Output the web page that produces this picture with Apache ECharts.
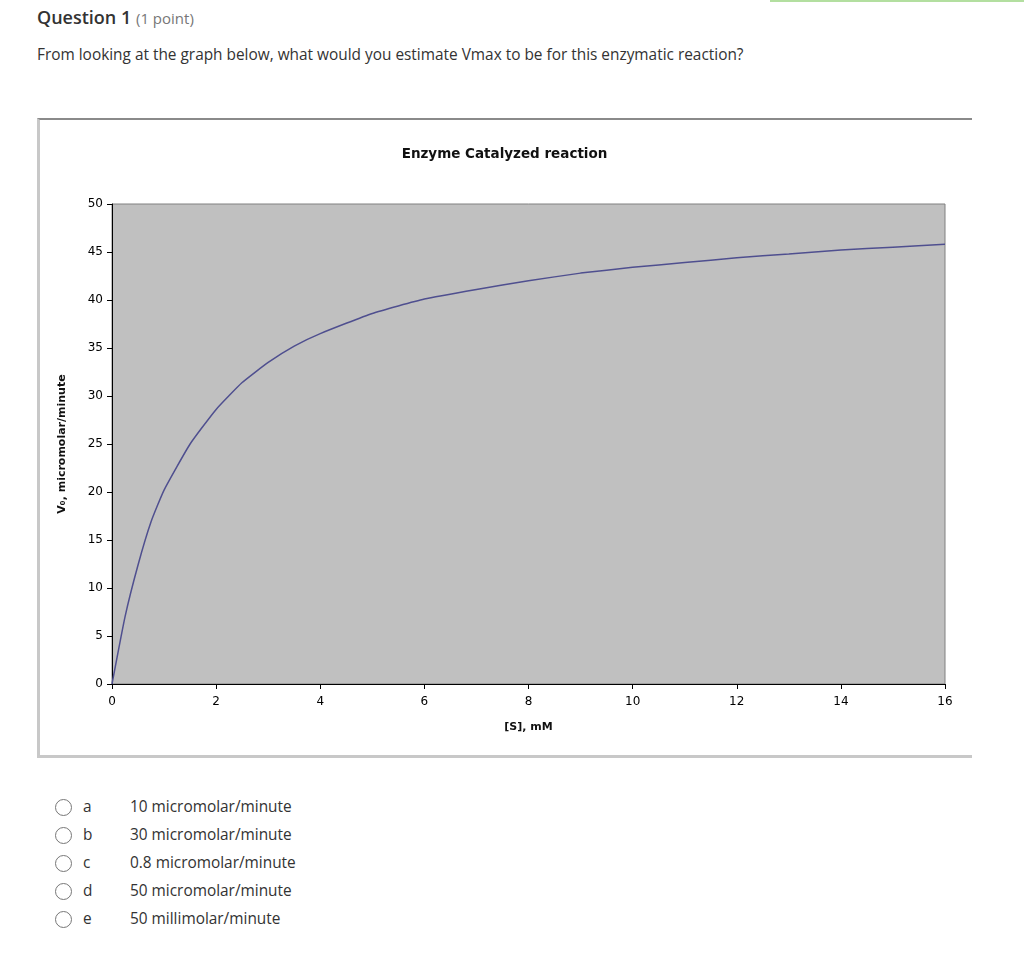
<!DOCTYPE html>
<html>
<head>
<meta charset="utf-8">
<script src="https://cdn.jsdelivr.net/npm/echarts@6/dist/echarts.min.js"></script>
<style>
  html, body { margin: 0; padding: 0; background: #fff; }
  body { width: 1024px; height: 958px; position: relative; font-family: "Open Sans", sans-serif; color: #333; overflow: hidden; }
  #topline { position: absolute; left: 770px; top: 0; width: 254px; height: 2px; background: #b3dfa0; }
  #qtitle { position: absolute; left: 37px; top: 5px; font-size: 18px; font-weight: 600; color: #333; white-space: nowrap; }
  #qtitle span { font-size: 15px; font-weight: 400; color: #777; }
  #qtext { position: absolute; left: 37px; top: 44px; font-size: 15.4px; color: #333; white-space: nowrap; }
  #chartbox { position: absolute; left: 37px; top: 118px; width: 935px; height: 640px;
    border-top: 2px solid #8a8a8a; border-left: 3px solid #c8c8c8; border-bottom: 3px solid #c8c8c8; box-sizing: border-box; }
  #chart { position: absolute; left: 37px; top: 118px; width: 935px; height: 640px; }
  .opt { position: absolute; left: 55px; font-size: 15.4px; color: #333; height: 20px; }
  .opt .rad { position: absolute; left: 0; top: 1px; width: 15px; height: 15px; border: 1.5px solid #777; border-radius: 50%; }
  .opt .let { position: absolute; left: 28px; top: -2px; }
  .opt .txt { position: absolute; left: 75px; top: -2px; white-space: nowrap; }
</style>
</head>
<body>
<div id="topline"></div>
<div id="qtitle">Question 1 <span>(1 point)</span></div>
<div id="qtext">From looking at the graph below, what would you estimate Vmax to be for this enzymatic reaction?</div>
<div id="chartbox"></div>
<div id="chart"></div>
<div id="opts"></div>
<script>
// Data
const substrate = [0, 0.25, 0.5, 0.75, 1, 1.5, 2, 2.5, 3, 3.5, 4, 5, 6, 7, 8, 9, 10, 11, 12, 13, 14, 15, 16];
const velocity  = [0, 7.0, 12.4, 16.9, 20.2, 25.0, 28.6, 31.4, 33.5, 35.2, 36.5, 38.6, 40.1, 41.1, 42.0, 42.8, 43.4, 43.9, 44.4, 44.8, 45.2, 45.5, 45.8];
const chartTitle = 'Enzyme Catalyzed reaction';
const xName = '[S], mM';
const yName = 'V\u2080, micromolar/minute';
const optLetters = ['a', 'b', 'c', 'd', 'e'];
const optTexts = ['10 micromolar/minute', '30 micromolar/minute', '0.8 micromolar/minute', '50 micromolar/minute', '50 millimolar/minute'];

// answer options
const optsEl = document.getElementById('opts');
optLetters.forEach((l, i) => {
  const d = document.createElement('div');
  d.className = 'opt';
  d.style.top = (798 + i * 28) + 'px';
  d.innerHTML = '<div class="rad"></div><div class="let">' + l + '</div><div class="txt">' + optTexts[i] + '</div>';
  optsEl.appendChild(d);
});

const chart = echarts.init(document.getElementById('chart'));
const lbl = { fontFamily: 'DejaVu Sans', fontSize: 12, color: '#000' };
chart.setOption({
  animation: false,
  title: {
    text: chartTitle, left: 'center', top: 24,
    textStyle: { fontFamily: 'DejaVu Sans', fontWeight: 'bold', fontSize: 13.5, color: '#111' }
  },
  grid: {
    left: 75, right: 27, top: 86, bottom: 74,
    show: true, backgroundColor: '#c0c0c0', borderColor: '#808080', borderWidth: 1
  },
  xAxis: {
    type: 'value', min: 0, max: 16, interval: 2,
    name: xName, nameLocation: 'middle', nameGap: 38,
    nameTextStyle: { fontFamily: 'DejaVu Sans', fontWeight: 'bold', fontSize: 11, color: '#111' },
    axisLine: { show: true, lineStyle: { color: '#000', width: 1 } },
    axisTick: { show: true, length: 5, lineStyle: { color: '#000' } },
    axisLabel: Object.assign({ margin: 12 }, lbl),
    splitLine: { show: false }
  },
  yAxis: {
    type: 'value', min: 0, max: 50, interval: 5,
    name: yName, nameLocation: 'middle', nameGap: 44, nameRotate: 90,
    nameTextStyle: { fontFamily: 'DejaVu Sans', fontWeight: 'bold', fontSize: 11, color: '#111' },
    axisLine: { show: true, lineStyle: { color: '#000', width: 1 } },
    axisTick: { show: true, length: 5, lineStyle: { color: '#000' } },
    axisLabel: Object.assign({ margin: 9 }, lbl),
    splitLine: { show: false }
  },
  series: [{
    type: 'line',
    data: substrate.map((s, i) => [s, velocity[i]]),
    showSymbol: false,
    smooth: 0.15,
    lineStyle: { color: '#4f4f8f', width: 1.5 }
  }]
});
</script>
</body>
</html>
